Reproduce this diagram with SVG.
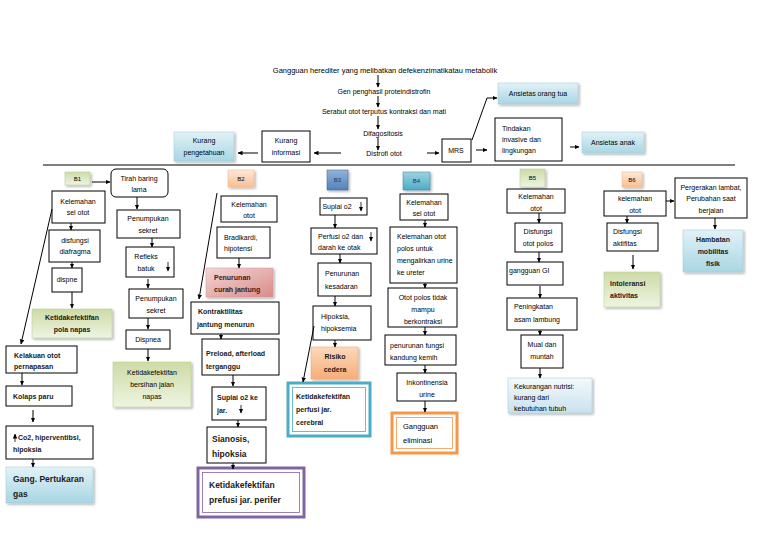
<svg xmlns="http://www.w3.org/2000/svg" width="768" height="543" viewBox="0 0 768 543">
<style>
.b{fill:#fff;stroke:#000;stroke-width:1}
.t{font-family:"Liberation Sans",Arial,sans-serif;font-size:7px;fill:#000}
.m{text-anchor:middle}
.bd{font-weight:bold;fill:#1a1a1a}
.lg{font-size:8.5px}
.s{font-size:6px}
.c line,.c polyline{stroke:#000;stroke-width:1;fill:none;marker-end:url(#ah)}
.sh{filter:url(#sh)}
</style>
<defs>
<marker id="ah" viewBox="0 0 10 10" refX="9" refY="5" markerWidth="5" markerHeight="5" orient="auto" markerUnits="userSpaceOnUse"><path d="M0,0.5 L10,5 L0,9.5 z" fill="#000"/></marker>
<filter id="sh" x="-10%" y="-10%" width="130%" height="140%"><feDropShadow dx="1.5" dy="1.5" stdDeviation="1" flood-color="#000" flood-opacity="0.3"/></filter>
<linearGradient id="gBlue" x1="0" y1="0" x2="0" y2="1"><stop offset="0" stop-color="#e2f2f7"/><stop offset="1" stop-color="#a8d6e3"/></linearGradient>
<linearGradient id="gGreen" x1="0" y1="0" x2="0" y2="1"><stop offset="0" stop-color="#cddba6"/><stop offset="1" stop-color="#eef4e2"/></linearGradient>
<linearGradient id="gPeach" x1="0" y1="0" x2="0" y2="1"><stop offset="0" stop-color="#fde9d9"/><stop offset="1" stop-color="#f9bf91"/></linearGradient>
<linearGradient id="gOrange" x1="0" y1="0" x2="0" y2="1"><stop offset="0" stop-color="#fcd9bd"/><stop offset="1" stop-color="#f7ad78"/></linearGradient>
<linearGradient id="gRed" x1="0" y1="0" x2="1" y2="1"><stop offset="0" stop-color="#f2d6d5"/><stop offset="1" stop-color="#d98c8a"/></linearGradient>
<linearGradient id="gNavy" x1="0" y1="0" x2="0" y2="1"><stop offset="0" stop-color="#95b3d7"/><stop offset="1" stop-color="#4f81bd"/></linearGradient>
<linearGradient id="gTeal" x1="0" y1="0" x2="0" y2="1"><stop offset="0" stop-color="#9fd3e1"/><stop offset="1" stop-color="#4bacc6"/></linearGradient>
<linearGradient id="gLight" x1="0" y1="0" x2="0" y2="1"><stop offset="0" stop-color="#f4f9fc"/><stop offset="1" stop-color="#c9e2ee"/></linearGradient>
</defs>
<rect width="768" height="543" fill="#fff"/>
<line x1="43" y1="165" x2="735" y2="165" stroke="#000" stroke-width="1.2"/>

<!-- top nodes -->
<g id="n-gangguan"><text class="t m" x="385" y="73" style="font-size:7.5px">Gangguan herediter yang melibatkan defekenzimatikatau metabolik</text></g>
<g id="n-gen"><text class="t m" x="384" y="94">Gen penghasil proteindistrofin</text></g>
<g id="n-serabut"><text class="t m" x="384" y="114">Serabut otot terputus kontraksi dan mati</text></g>
<g id="n-difago"><text class="t m" x="383" y="136">Difagositosis</text></g>
<g id="n-distrofi"><text class="t m" x="384" y="156">Distrofi otot</text></g>
<g id="n-kurang-info"><rect class="b" x="262" y="131" width="48" height="31"/><text class="t m" x="286" y="143">Kurang</text><text class="t m" x="286" y="155">informasi</text></g>
<g id="n-kurang-peng"><rect class="sh" x="174" y="132" width="60" height="29" fill="url(#gBlue)" stroke="#9cc9d6" stroke-width="0.5"/><text class="t m" x="204" y="143">Kurang</text><text class="t m" x="204" y="155">pengetahuan</text></g>
<g id="n-mrs"><rect class="b" x="442" y="139" width="29" height="23"/><text class="t m" x="456" y="153">MRS</text></g>
<g id="n-ans-ortu"><rect class="sh" x="498" y="83" width="80" height="21" fill="url(#gBlue)" stroke="#9cc9d6" stroke-width="0.5"/><text class="t m" x="538" y="96">Ansietas orang tua</text></g>
<g id="n-tindakan"><rect class="b" x="495" y="118" width="67" height="43"/><text class="t" x="502" y="131">Tindakan</text><text class="t" x="502" y="142">invasive dan</text><text class="t" x="502" y="153">lingkungan</text></g>
<g id="n-ans-anak"><rect class="sh" x="582" y="132" width="62" height="21" fill="url(#gBlue)" stroke="#9cc9d6" stroke-width="0.5"/><text class="t m" x="613" y="145">Ansietas anak</text></g>

<!-- B1 column -->
<g id="n-b1"><rect class="sh" x="65" y="172" width="25" height="13" fill="url(#gGreen)" stroke="#b5c98e" stroke-width="0.5"/><text class="t m s" x="77.5" y="181">B1</text></g>
<g id="n-b1-kel"><rect class="b" x="52" y="191" width="53" height="32"/><text class="t m" x="78" y="204">Kelemahan</text><text class="t m" x="78" y="215">sel otot</text></g>
<g id="n-b1-dis"><rect class="b" x="49" y="230" width="51" height="32"/><text class="t m" x="75" y="243">disfungsi</text><text class="t m" x="75" y="254">diafragma</text></g>
<g id="n-b1-dispne"><rect class="b" x="52" y="268" width="30" height="24"/><text class="t m" x="67" y="282">dispne</text></g>
<g id="n-b1-pola"><rect class="sh" x="32" y="309" width="80" height="29" fill="url(#gGreen)" stroke="#b5c98e" stroke-width="0.5"/><text class="t m bd" x="72" y="320">Ketidakefektifan</text><text class="t m bd" x="72" y="332">pola napas</text></g>
<g id="n-b1-kelakuan"><rect class="b" x="6" y="346" width="71" height="27"/><text class="t bd" x="14" y="358">Kelakuan otot</text><text class="t bd" x="14" y="369">pernapasan</text></g>
<g id="n-b1-kolaps"><rect class="b" x="6" y="386" width="66" height="20"/><text class="t bd" x="13" y="399">Kolaps paru</text></g>
<g id="n-b1-co2"><rect class="b" x="6" y="426" width="87" height="33"/><line x1="15" y1="442" x2="15" y2="434" stroke="#000" stroke-width="0.8" marker-end="url(#ah)"/><text class="t bd" x="18" y="440">Co2, hiperventibsi,</text><text class="t bd" x="13" y="452">hipoksia</text></g>
<g id="n-b1-gang"><rect class="sh" x="6" y="467" width="87" height="36" fill="url(#gBlue)" stroke="#9cc9d6" stroke-width="0.5"/><text class="t bd lg" x="13" y="482">Gang. Pertukaran</text><text class="t bd lg" x="13" y="497">gas</text></g>

<!-- Tirah baring column -->
<g id="n-tirah"><rect class="b" x="111" y="169" width="57" height="28" rx="5"/><text class="t m" x="139" y="181">Tirah baring</text><text class="t m" x="139" y="192">lama</text></g>
<g id="n-penumpukan1"><rect class="b" x="117" y="210" width="63" height="28"/><text class="t m" x="148" y="221">Penumpukan</text><text class="t m" x="148" y="233">sekret</text></g>
<g id="n-refleks"><rect class="b" x="126" y="247" width="48" height="30"/><text class="t m" x="146" y="259">Refleks</text><text class="t m" x="146" y="271">batuk</text><line x1="168" y1="262" x2="168" y2="271" stroke="#000" stroke-width="0.8" marker-end="url(#ah)"/></g>
<g id="n-penumpukan2"><rect class="b" x="129" y="289" width="54" height="29"/><text class="t m" x="156" y="301">Penumpukan</text><text class="t m" x="156" y="313">sekret</text></g>
<g id="n-dispnea"><rect class="b" x="126" y="330" width="44" height="19"/><text class="t m" x="148" y="342">Dispnea</text></g>
<g id="n-bersihan"><rect class="sh" x="113" y="362" width="78" height="45" fill="url(#gGreen)" stroke="#b5c98e" stroke-width="0.5"/><text class="t m" x="152" y="375">Ketidakefektifan</text><text class="t m" x="152" y="387">bersihan jalan</text><text class="t m" x="152" y="399">napas</text></g>

<!-- B2 column -->
<g id="n-b2"><rect class="sh" x="228" y="170" width="26" height="17" fill="url(#gPeach)" stroke="#e8b48c" stroke-width="0.5"/><text class="t m s" x="241" y="181">B2</text></g>
<g id="n-b2-kel"><rect class="b" x="221" y="196" width="56" height="26"/><text class="t m" x="249" y="207">Kelemahan</text><text class="t m" x="249" y="218">otot</text></g>
<g id="n-b2-bradi"><rect class="b" x="217" y="227" width="53" height="31"/><text class="t" x="224" y="240">Bradikardi,</text><text class="t" x="224" y="251">hipotensi</text></g>
<g id="n-b2-curah"><rect class="sh" x="206" y="268" width="67" height="29" fill="url(#gRed)" stroke="#d39694" stroke-width="0.5"/><text class="t bd" x="214" y="280" style="fill:#3a1a1a">Penurunan</text><text class="t bd" x="214" y="292" style="fill:#3a1a1a">curah jantung</text></g>
<g id="n-b2-kontraktil"><rect class="b" x="191" y="302" width="88" height="32"/><text class="t bd" x="198" y="314">Kontraktilitas</text><text class="t bd" x="197" y="327">jantung menurun</text></g>
<g id="n-b2-preload"><rect class="b" x="202" y="339" width="77" height="36"/><text class="t bd" x="206" y="356">Preload, afterload</text><text class="t bd" x="206" y="369">terganggu</text></g>
<g id="n-b2-suplai"><rect class="b" x="212" y="387" width="54" height="33"/><text class="t bd" x="217" y="400">Suplai o2 ke</text><text class="t bd" x="217" y="413">jar.</text><line x1="241" y1="405" x2="241" y2="413" stroke="#000" stroke-width="0.8" marker-end="url(#ah)"/></g>
<g id="n-b2-sianosis"><rect class="b" x="207" y="427" width="59" height="36"/><text class="t bd lg" x="212" y="442">Sianosis,</text><text class="t bd lg" x="212" y="457">hipoksia</text></g>
<g id="n-b2-perifer"><rect x="198" y="468" width="106" height="49" fill="#fff" stroke="#8064a2" stroke-width="3"/><rect x="202.5" y="472.5" width="97" height="40" fill="none" stroke="#8064a2" stroke-width="0.8"/><text class="t bd lg" x="209" y="488">Ketidakefektifan</text><text class="t bd lg" x="209" y="503">prefusi jar. perifer</text></g>

<!-- B3 column -->
<g id="n-b3"><rect class="sh" x="327" y="170" width="21" height="20" fill="url(#gNavy)" stroke="#385d8a" stroke-width="0.5"/><text class="t m s" x="337.5" y="182" style="fill:#1f3864">B3</text></g>
<g id="n-b3-suplai"><rect class="b" x="320" y="198" width="47" height="17"/><text class="t m" x="337" y="209">Suplai o2</text><line x1="361" y1="202" x2="361" y2="211" stroke="#000" stroke-width="0.8" marker-end="url(#ah)"/></g>
<g id="n-b3-perfusi"><rect class="b" x="311" y="228" width="66" height="26"/><text class="t" x="318" y="239">Perfusi o2 dan</text><text class="t" x="318" y="250">darah ke otak</text><line x1="371" y1="232" x2="371" y2="241" stroke="#000" stroke-width="0.8" marker-end="url(#ah)"/></g>
<g id="n-b3-kesadaran"><rect class="b" x="318" y="263" width="53" height="33"/><text class="t" x="325" y="276">Penurunan</text><text class="t" x="325" y="289">kesadaran</text></g>
<g id="n-b3-hipoksia"><rect class="b" x="313" y="306" width="58" height="34"/><text class="t" x="321" y="319">Hipoksia,</text><text class="t" x="321" y="331">hipoksemia</text></g>
<g id="n-b3-risiko"><rect class="sh" x="311" y="347" width="47" height="32" fill="url(#gOrange)" stroke="#e8a270" stroke-width="0.5"/><text class="t m bd" x="335" y="359">Risiko</text><text class="t m bd" x="335" y="372">cedera</text></g>
<g id="n-b3-cerebral"><rect x="288" y="383" width="82" height="53" fill="#fff" stroke="#4bacc6" stroke-width="3"/><rect x="292.5" y="387.5" width="73" height="44" fill="none" stroke="#4bacc6" stroke-width="0.8"/><text class="t bd" x="296" y="399">Ketidakefektifan</text><text class="t bd" x="296" y="412">perfusi jar.</text><text class="t bd" x="296" y="425">cerebral</text></g>

<!-- B4 column -->
<g id="n-b4"><rect class="sh" x="403" y="172" width="27" height="18" fill="url(#gTeal)" stroke="#31859c" stroke-width="0.5"/><text class="t m s" x="416.5" y="183" style="fill:#17375e">B4</text></g>
<g id="n-b4-kel"><rect class="b" x="400" y="194" width="48" height="26"/><text class="t m" x="424" y="205">Kelemahan</text><text class="t m" x="424" y="216">sel otot</text></g>
<g id="n-b4-polos"><rect class="b" x="390" y="227" width="67" height="56"/><text class="t" x="397" y="239">Kelemahan otot</text><text class="t" x="397" y="251">polos untuk</text><text class="t" x="397" y="263">mengalirkan urine</text><text class="t" x="397" y="275">ke ureter</text></g>
<g id="n-b4-otot"><rect class="b" x="388" y="288" width="69" height="39"/><text class="t m" x="423" y="300">Otot polos tidak</text><text class="t m" x="423" y="312">mampu</text><text class="t m" x="423" y="324">berkontraksi</text></g>
<g id="n-b4-fungsi"><rect class="b" x="385" y="335" width="71" height="30"/><text class="t" x="390" y="348">penurunan fungsi</text><text class="t" x="390" y="360">kandung kemih</text></g>
<g id="n-b4-inkont"><rect class="b" x="397" y="373" width="59" height="28"/><text class="t m" x="427" y="385">Inkontinensia</text><text class="t m" x="427" y="397">urine</text></g>
<g id="n-b4-elim"><rect x="392" y="413" width="65" height="40" fill="#fff" stroke="#f79646" stroke-width="3"/><rect x="396.5" y="417.5" width="56" height="31" fill="none" stroke="#f79646" stroke-width="0.8"/><text class="t" x="403" y="429" style="font-size:7.5px">Gangguan</text><text class="t" x="403" y="443" style="font-size:7.5px">eliminasi</text></g>

<!-- B5 column -->
<g id="n-b5"><rect class="sh" x="520" y="169" width="25" height="18" fill="url(#gGreen)" stroke="#b5c98e" stroke-width="0.5"/><text class="t m s" x="532.5" y="180">B5</text></g>
<g id="n-b5-kel"><rect class="b" x="507" y="189" width="58" height="24"/><text class="t m" x="536" y="199">Kelemahan</text><text class="t m" x="536" y="211">otot</text></g>
<g id="n-b5-dis"><rect class="b" x="515" y="223" width="47" height="29"/><text class="t m" x="538" y="234">Disfungsi</text><text class="t m" x="538" y="246">otot polos</text></g>
<g id="n-b5-gi"><rect class="b" x="507" y="262" width="56" height="23"/><text class="t" x="509" y="273">gangguan GI</text></g>
<g id="n-b5-asam"><rect class="b" x="507" y="298" width="70" height="32"/><text class="t" x="514" y="309">Peningkatan</text><text class="t" x="514" y="322">asam lambung</text></g>
<g id="n-b5-mual"><rect class="b" x="521" y="335" width="42" height="33"/><text class="t m" x="542" y="347">Mual dan</text><text class="t m" x="542" y="359">muntah</text></g>
<g id="n-b5-nutrisi"><rect class="sh" x="508" y="378" width="84" height="35" fill="url(#gLight)" stroke="#9cc9d6" stroke-width="0.5"/><text class="t" x="514" y="389">Kekurangan nutrisi:</text><text class="t" x="514" y="400">kurang dari</text><text class="t" x="514" y="411">kebutuhan tubuh</text></g>

<!-- B6 column -->
<g id="n-b6"><rect class="sh" x="622" y="172" width="20" height="15" fill="url(#gPeach)" stroke="#e8b48c" stroke-width="0.5"/><text class="t m s" x="632" y="182">B6</text></g>
<g id="n-b6-kel"><rect class="b" x="604" y="191" width="62" height="25"/><text class="t m" x="635" y="201">kelemahan</text><text class="t m" x="635" y="213">otot</text></g>
<g id="n-b6-dis"><rect class="b" x="607" y="223" width="51" height="28"/><text class="t" x="613" y="234">Disfungsi</text><text class="t" x="613" y="246">aktifitas</text></g>
<g id="n-b6-intol"><rect class="sh" x="604" y="272" width="56" height="35" fill="url(#gGreen)" stroke="#b5c98e" stroke-width="0.5"/><text class="t bd" x="610" y="286">Intoleransi</text><text class="t bd" x="610" y="298">aktivitas</text></g>
<g id="n-b6-gerak"><rect class="b" x="675" y="178" width="72" height="40"/><text class="t m" x="711" y="190">Pergerakan lambat,</text><text class="t m" x="711" y="201">Perubahan saat</text><text class="t m" x="711" y="213">berjalan</text></g>
<g id="n-b6-hambatan"><rect class="sh" x="683" y="230" width="60" height="42" fill="url(#gBlue)" stroke="#9cc9d6" stroke-width="0.5"/><text class="t m bd" x="713" y="242">Hambatan</text><text class="t m bd" x="713" y="254">mobilitas</text><text class="t m bd" x="713" y="266">fisik</text></g>

<!-- connectors -->
<g id="connectors" class="c">
<line x1="378" y1="75" x2="378" y2="87"/>
<line x1="378" y1="96" x2="378" y2="107"/>
<line x1="378" y1="116" x2="378" y2="129"/>
<line x1="378" y1="138" x2="378" y2="150"/>
<line x1="341" y1="153" x2="314" y2="153"/>
<line x1="258" y1="153" x2="238" y2="153"/>
<line x1="427" y1="153" x2="439" y2="153"/>
<polyline points="472,140 487,98 497,98"/>
<line x1="476" y1="150" x2="487" y2="150"/>
<line x1="570" y1="147" x2="579" y2="147"/>
<line x1="92" y1="182" x2="110" y2="182"/>
<line x1="71" y1="223" x2="71" y2="230"/>
<line x1="72" y1="262" x2="72" y2="268"/>
<line x1="72" y1="292" x2="72" y2="308"/>
<line x1="52" y1="209" x2="21" y2="344"/>
<line x1="22" y1="373" x2="22" y2="385"/>
<line x1="33" y1="410" x2="33" y2="422"/>
<line x1="33" y1="459" x2="33" y2="467"/>
<line x1="137" y1="197" x2="137" y2="209"/>
<line x1="152" y1="238" x2="152" y2="247"/>
<line x1="148" y1="279" x2="148" y2="288"/>
<line x1="148" y1="318" x2="148" y2="329"/>
<line x1="148" y1="349" x2="148" y2="361"/>
<line x1="217" y1="193" x2="199" y2="299"/>
<line x1="239" y1="258" x2="239" y2="268"/>
<line x1="221" y1="334" x2="221" y2="339"/>
<line x1="233" y1="375" x2="233" y2="386"/>
<line x1="238" y1="420" x2="238" y2="427"/>
<line x1="233" y1="463" x2="233" y2="469"/>
<line x1="335" y1="215" x2="335" y2="228"/>
<line x1="340" y1="254" x2="340" y2="263"/>
<line x1="335" y1="296" x2="335" y2="306"/>
<line x1="335" y1="340" x2="335" y2="347"/>
<line x1="314" y1="326" x2="303" y2="382"/>
<line x1="425" y1="220" x2="425" y2="227"/>
<line x1="425" y1="283" x2="425" y2="288"/>
<line x1="425" y1="327" x2="425" y2="335"/>
<line x1="425" y1="365" x2="425" y2="373"/>
<line x1="425" y1="401" x2="425" y2="412"/>
<line x1="539" y1="213" x2="539" y2="223"/>
<line x1="539" y1="252" x2="539" y2="262"/>
<line x1="540" y1="286" x2="540" y2="298"/>
<line x1="540" y1="330" x2="540" y2="335"/>
<line x1="540" y1="368" x2="540" y2="378"/>
<line x1="627" y1="216" x2="627" y2="223"/>
<line x1="633" y1="255" x2="633" y2="269"/>
<line x1="666" y1="201" x2="674" y2="201"/>
<line x1="715" y1="218" x2="715" y2="229"/>
</g>
</svg>
